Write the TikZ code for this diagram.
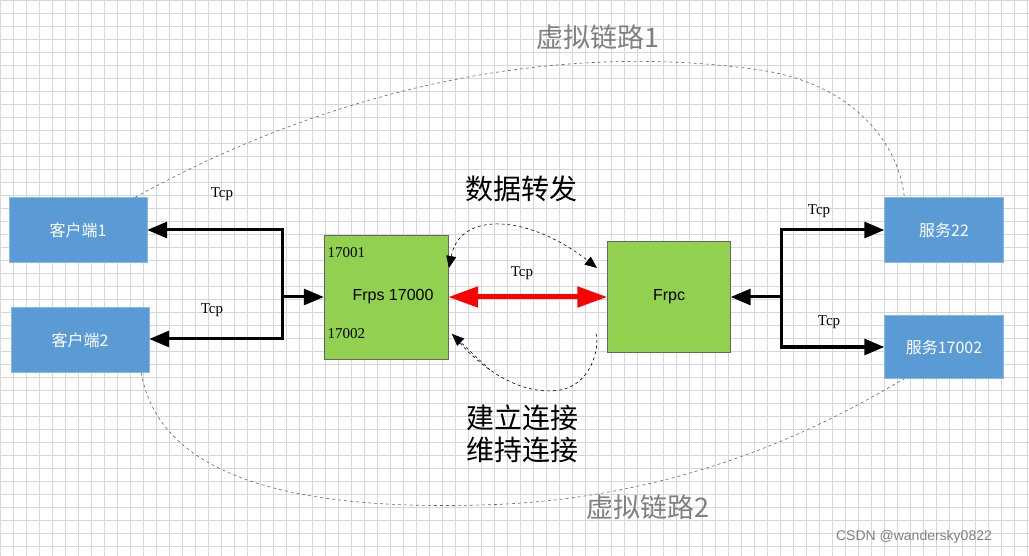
\documentclass[tikz,border=0pt]{standalone}
\usepackage{fontspec}
\setmainfont{Liberation Sans}
\newfontfamily\cjk{Noto Sans CJK SC}
\newfontfamily\serifnum{Liberation Serif}
\usetikzlibrary{arrows.meta}
\usetikzlibrary{positioning}
\definecolor{boxblue}{RGB}{91,155,213}
\definecolor{boxgreen}{RGB}{146,208,80}
\definecolor{gridgray}{RGB}{215,215,215}
\begin{document}
\begin{tikzpicture}[x=1pt,y=-1pt,
	blue box/.style={draw=boxblue!70!white,fill=boxblue,minimum width=138pt,minimum height=65pt,text=white,font=\cjk\fontsize{16}{16}\selectfont},
	green box/.style={draw=black!60,fill=boxgreen,font=\fontsize{16}{16}\selectfont},
	link/.style={line width=3pt,-{Triangle[length=20pt,width=16pt]}},
	tcp/.style={font=\serifnum\fontsize{15}{15}\selectfont},
	small arrow/.style={dashed,line width=0.6pt,{Triangle[length=12pt,width=10pt]}-{Triangle[length=12pt,width=10pt]}},
	virtual/.style={dashed,gray!80!black,line width=0.6pt},
	big/.style={font=\cjk\fontsize{28}{28}\selectfont}]
	%Background grid
	\fill[white] (0,0) rectangle (1029,556);
	\useasboundingbox (0,0) rectangle (1029,556);
	\draw[gridgray,line width=0.5pt,step=13pt] (0,0) grid (1029,556);

	%Clients at the left
	\node[blue box] (c1) at (78,230) {客户端1};
	\node[blue box] (c2) at (80,340) {客户端2};
	%Server and client of frp
	\node[green box,minimum width=124pt,minimum height=124pt] (frps) at (386,297) {\hspace{14pt}Frps 17000};
	\node[tcp,anchor=west] at (324,253) {17001};
	\node[tcp,anchor=west] at (324,334) {17002};
	\node[green box,minimum width=123pt,minimum height=111pt] (frpc) at (669,297) {Frpc};
	%Services at the right
	\node[blue box,minimum width=119pt] (s1) at (944,230) {服务22};
	\node[blue box,minimum width=119pt,minimum height=63pt] (s2) at (944,347) {服务17002};

	%Tcp links at the left
	\coordinate (jl) at (282,297);
	\draw[link] (jl) -- (frps.west);
	\draw[link] (jl) |- (c1.east);
	\draw[link] (jl) |- (c2.east |- 0,339);
	\node[tcp] at (222,194) {Tcp};
	\node[tcp] at (212,310) {Tcp};
	%Tcp links at the right
	\coordinate (jr) at (781,297);
	\draw[link] (jr) -- (frpc.east);
	\draw[link] (jr) |- (s1.west);
	\draw[link] (jr) |- (s2.west);
	\node[tcp] at (819,211) {Tcp};
	\node[tcp] at (829,322) {Tcp};

	%Tunnel between frps and frpc
	\draw[red,line width=5pt,{Triangle[length=30pt,width=20pt]}-{Triangle[length=30pt,width=20pt]}] (frps.east) -- (frpc.west);
	\node[tcp] at (522,273) {Tcp};
	\draw[small arrow] (449,268) .. controls (460,210) and (530,215) .. (597,268);
	\draw[small arrow,-] (452,334) .. controls (490,380) and (530,395) .. (560,390) .. controls (590,385) and (600,350) .. (596,333);
	\draw[dashed,line width=0.6pt,-{Triangle[length=12pt,width=10pt]}] (490,370) -- (452,334);
	\node[big] at (521,189) {数据转发};
	\node[big,align=center] at (522,434) {建立连接\\[4pt]维持连接};

	%Virtual links
	\draw[virtual] ([xshift=-12pt]c1.north east) .. controls (330,90) and (550,40) .. (760,70) .. controls (860,85) and (900,150) .. ([xshift=20pt]s1.north west);
	\draw[virtual] ([xshift=-8pt]c2.south east) .. controls (160,480) and (300,510) .. (480,505) .. controls (700,500) and (850,410) .. ([xshift=20pt]s2.south west);
	\node[font=\cjk\fontsize{27}{27}\selectfont,text=gray] at (598,37) {虚拟链路1};
	\node[font=\cjk\fontsize{27}{27}\selectfont,text=gray] at (648,507) {虚拟链路2};
	\node[font=\fontsize{14}{14}\selectfont,text=gray] at (914,537) {CSDN @wandersky0822};
\end{tikzpicture}
\end{document}
